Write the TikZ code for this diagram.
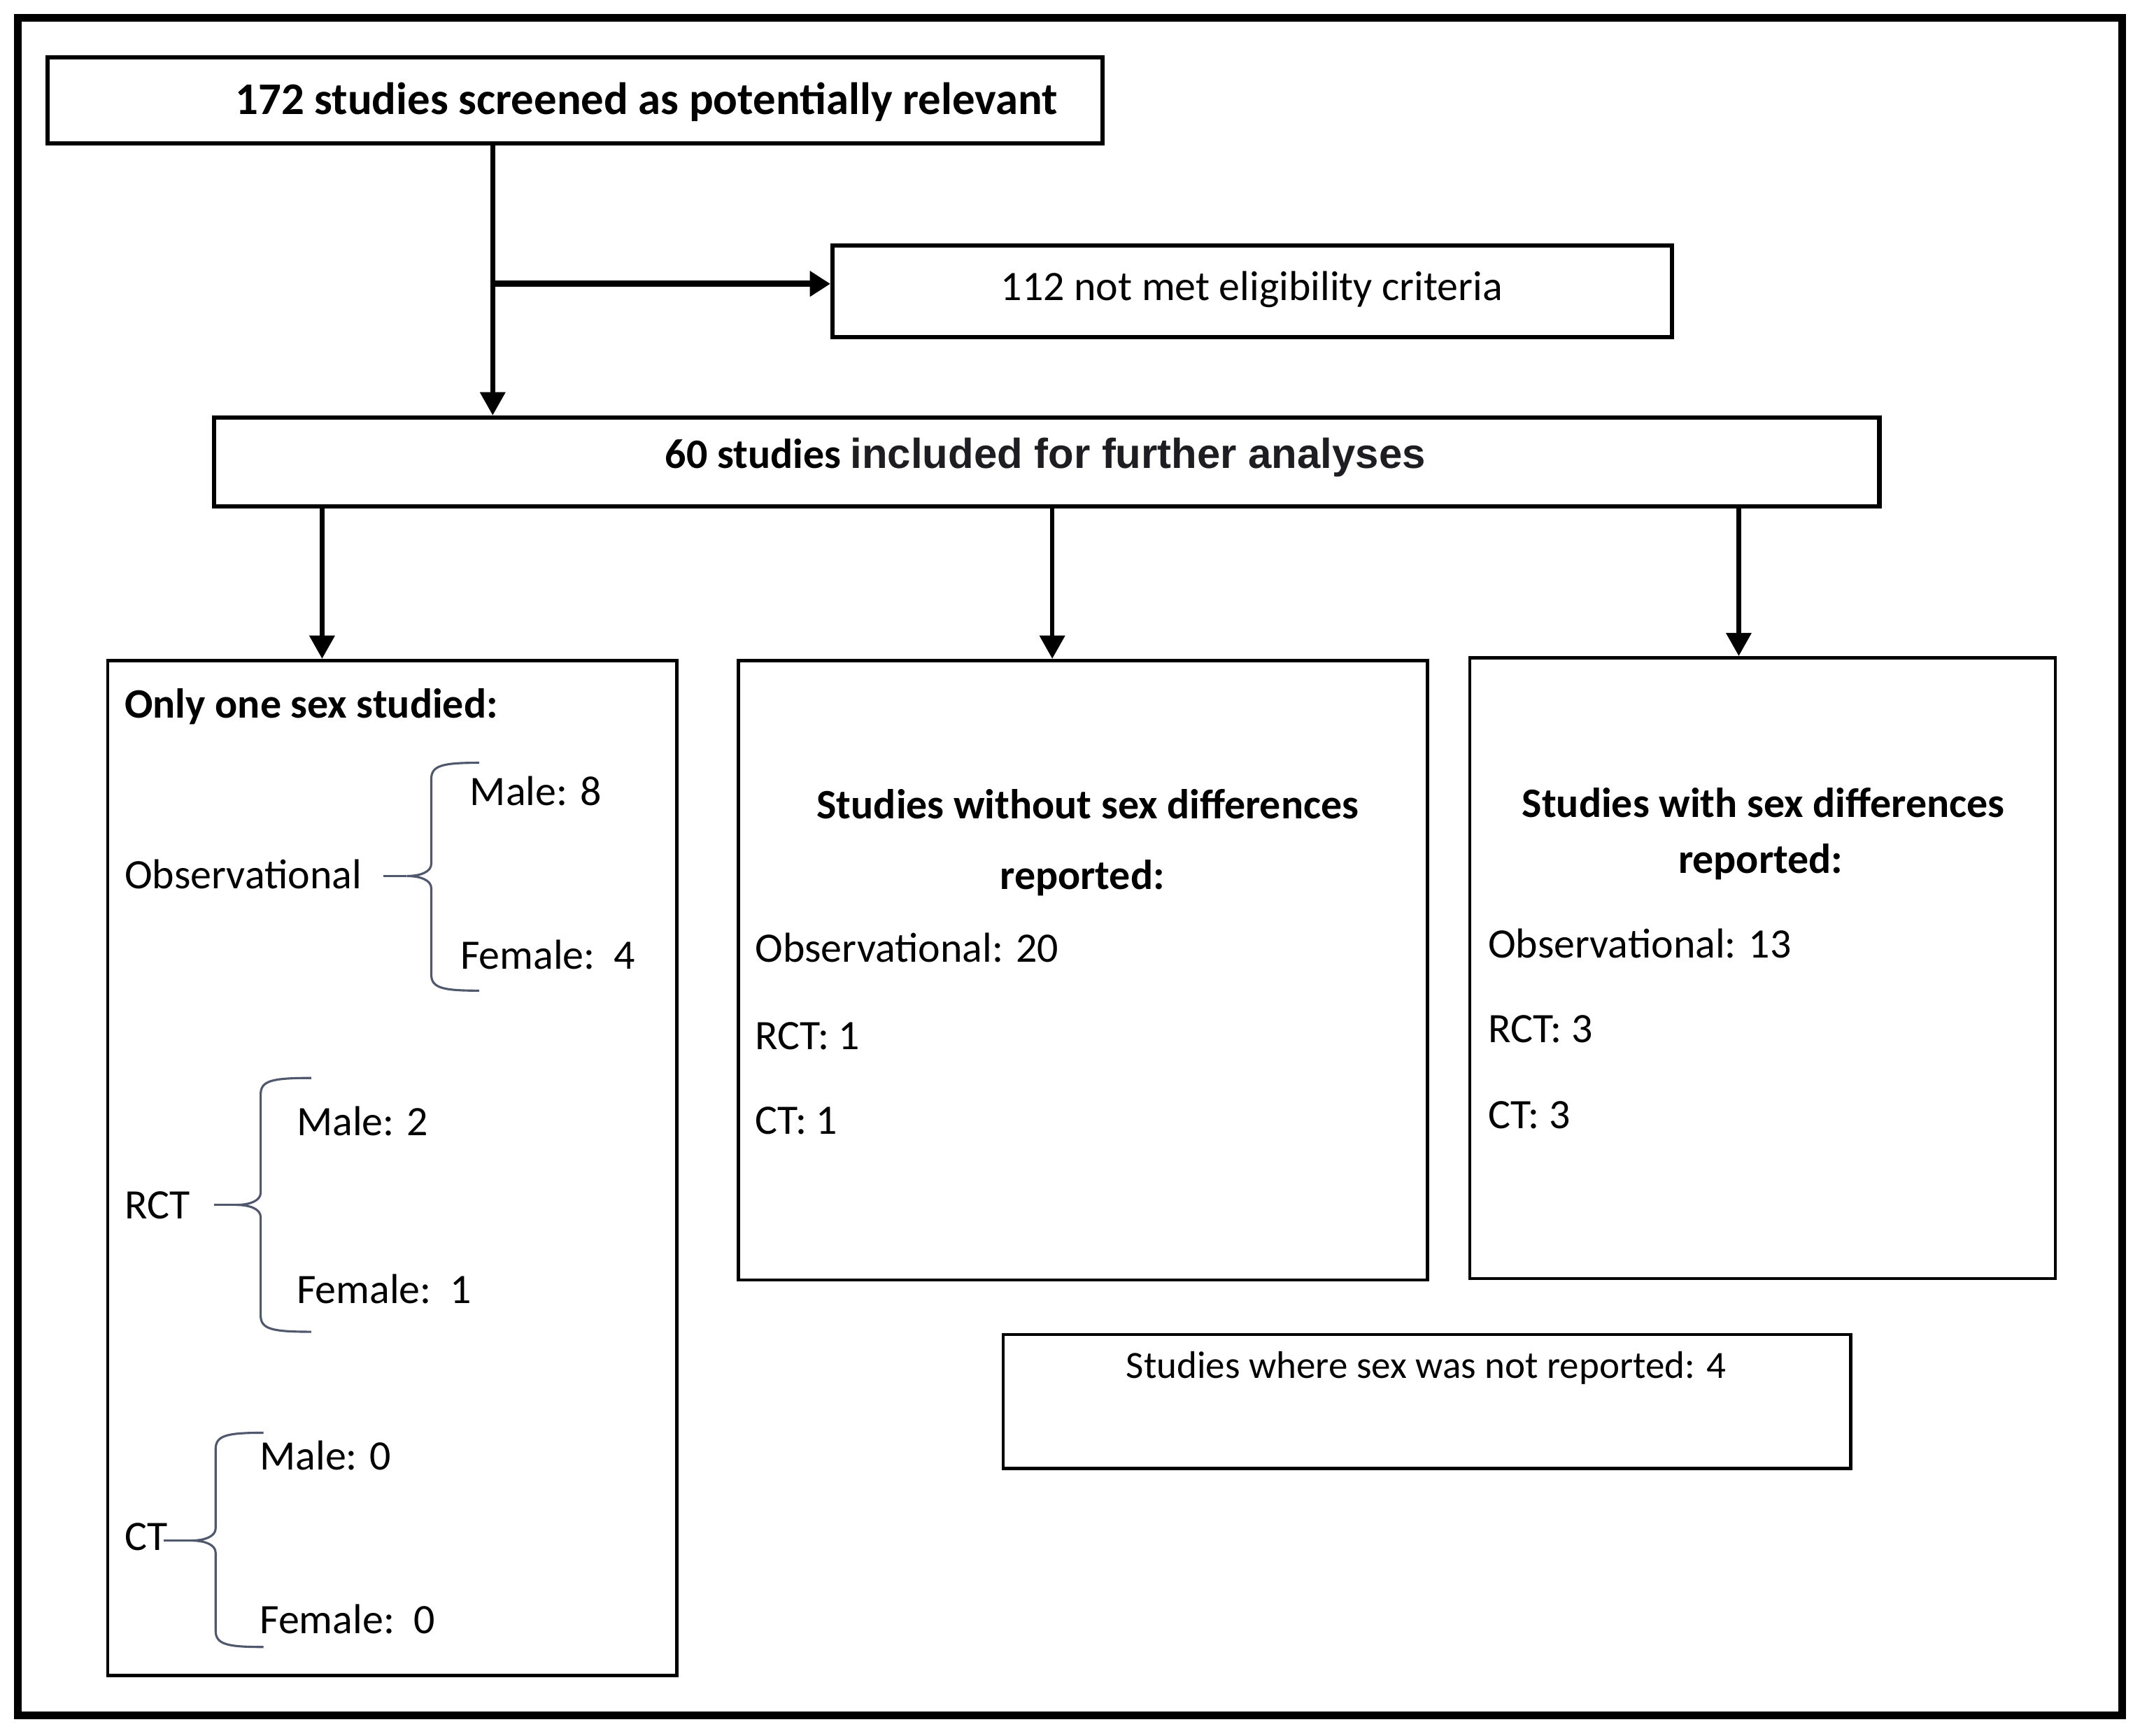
\documentclass[tikz,border=0pt]{standalone}
\usepackage{fontspec}
\setmainfont{Carlito}
\newfontfamily\arialf{Liberation Sans}
\usetikzlibrary{arrows.meta,fit}
\definecolor{bracecol}{RGB}{80,88,110}
\definecolor{darktxt}{RGB}{30,30,34}
\newcommand\sexbrace[6]{%
  \draw[brc] (#5,#2) .. controls ({#1+8},#2) and (#1,{#2+2}) .. (#1,{#2+12})
     -- (#1,{#3-9}) .. controls (#1,{#3-3}) and ({#1-8},#3) .. ({#1-18},#3)
     .. controls ({#1-8},#3) and (#1,{#3+3}) .. (#1,{#3+9})
     -- (#1,{#4-12}) .. controls (#1,{#4-2}) and ({#1+8},#4) .. (#5,#4);
  \draw[brc] (#6,#3) -- ({#1-18},#3);}
\begin{document}
\begin{tikzpicture}[x=0.5pt,y=-0.5pt,
  box/.style={draw, line width=1.2pt, inner sep=0pt, rectangle},
  topbox/.style={box, line width=1.6pt},
  arr/.style={line width=1.7pt, -{Triangle[length=8.5pt,width=9pt]}},
  harr/.style={line width=2.2pt, -{Triangle[length=7.5pt,width=9pt]}},
  brc/.style={draw=bracecol, line width=0.8pt},
  txt/.style={inner sep=0pt, font=\fontsize{15.35}{18}\selectfont},
  bold/.style={txt, font=\fontsize{15.35}{18}\selectfont\bfseries},
]
\fill[white] (0,0) rectangle (1568,1272);
\useasboundingbox (0,0) rectangle (1568,1272);

% outer frame
\node[draw, line width=2.8pt, inner sep=0pt, fit={(13,13) (1555,1257)}] (frame) {};

% boxes
\node[topbox, fit={(35,42) (808,105)}] (b1) {};
\node[topbox, fit={(610,180) (1225,247)}] (b112) {};
\node[topbox, fit={(157,306) (1377,371)}] (b60) {};
\node[box, fit={(79,484) (496,1228)}] (bone) {};
\node[box, fit={(541,484) (1046,938)}] (bwithout) {};
\node[box, fit={(1077,482) (1506,937)}] (bwith) {};
\node[box, fit={(735,978) (1356,1076)}] (bnr) {};

% arrows
\coordinate (cmain) at (361,0);
\coordinate (jn) at (361,208);
\draw[arr] (b1.south -| cmain) -- (b60.north -| cmain);
\draw[harr] (jn) -- (b112.west |- jn);
\coordinate (ca) at (236,0);
\coordinate (cb) at (771,0);
\coordinate (cc) at (1274,0);
\draw[arr] (b60.south -| ca) -- (bone.north -| ca);
\draw[arr] (b60.south -| cb) -- (bwithout.north -| cb);
\draw[arr] (b60.south -| cc) -- (bwith.north -| cc);

% top texts
\node[txt, anchor=base west, font=\fontsize{16.6}{20}\selectfont\bfseries] (t1) at (172,84) {172 studies screened as potentially relevant};
\node[txt, anchor=base west] (t112) at (733,220) {112 not met eligibility criteria};
\node[txt, anchor=base west] (t60) at (487,343) {\bfseries 60 studies {\arialf\color{darktxt}included for further analyses}};

% left box
\node[bold, anchor=base west] (tone) at (91,526) {Only one sex studied:};
\node[txt, anchor=base west] (tobs) at (91,651) {Observational};
\node[txt, anchor=base west] (tm8) at (344,590) {Male: 8};
\node[txt, anchor=base west] (tf4) at (337,710) {Female:\ \ 4};
\node[txt, anchor=base west] (trct) at (91,893) {RCT};
\node[txt, anchor=base west] (tm2) at (217,832) {Male: 2};
\node[txt, anchor=base west] (tf1) at (217,955) {Female:\ \ 1};
\node[txt, anchor=base west] (tct) at (91,1136) {CT};
\node[txt, anchor=base west] (tm0) at (190,1077) {Male: 0};
\node[txt, anchor=base west] (tf0) at (190,1197) {Female:\ \ 0};

\sexbrace{316}{559}{642}{726}{351}{281}
\sexbrace{191}{790}{883}{976}{228}{157}
\sexbrace{158}{1050}{1129}{1207}{193}{120}

% middle box
\node[bold, anchor=base] (tw1) at (797,600) {Studies without sex differences};
\node[bold, anchor=base] (tw2) at (793,652) {reported:};
\node[txt, anchor=base west] (tw3) at (553,705) {Observational: 20};
\node[txt, anchor=base west] (tw4) at (553,769) {RCT: 1};
\node[txt, anchor=base west] (tw5) at (553,831) {CT: 1};

% right box
\node[bold, anchor=base] (ts1) at (1292,599) {Studies with sex differences};
\node[bold, anchor=base] (ts2) at (1290,640) {reported:};
\node[txt, anchor=base west] (ts3) at (1090,702) {Observational: 13};
\node[txt, anchor=base west] (ts4) at (1090,764) {RCT: 3};
\node[txt, anchor=base west] (ts5) at (1090,827) {CT: 3};

% bottom box
\node[txt, anchor=base, font=\fontsize{14.1}{17}\selectfont] (tnr) at (1045,1010) {Studies where sex was not reported: 4};
\end{tikzpicture}
\end{document}
